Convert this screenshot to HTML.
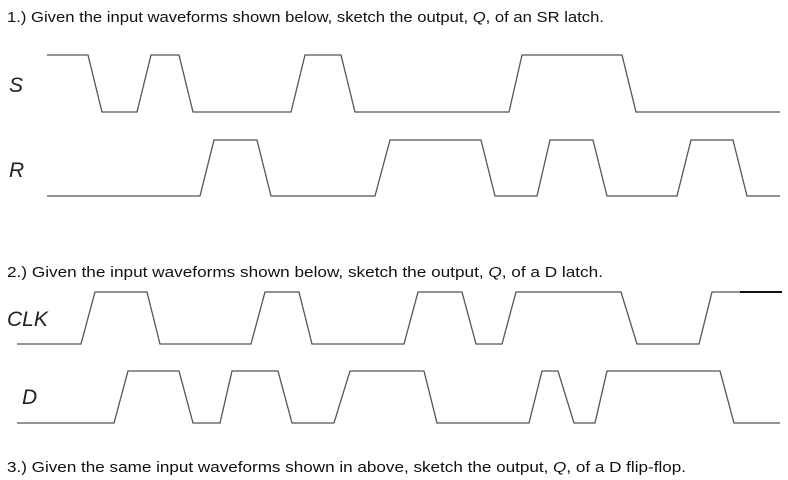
<!DOCTYPE html>
<html><head><meta charset="utf-8"><style>html,body{margin:0;padding:0;background:#fff;}svg{display:block}</style></head>
<body>
<svg width="788" height="480" xmlns="http://www.w3.org/2000/svg">
<g font-family="Liberation Sans, sans-serif" font-size="15" fill="#111">
<text x="7" y="22" textLength="597" lengthAdjust="spacingAndGlyphs">1.)  Given the input waveforms shown below, sketch the output, <tspan font-style="italic">Q</tspan>, of an SR latch.</text>
<text x="7" y="277" textLength="596" lengthAdjust="spacingAndGlyphs">2.)  Given the input waveforms shown below, sketch the output, <tspan font-style="italic">Q</tspan>, of a D latch.</text>
<text x="7" y="472" textLength="679" lengthAdjust="spacingAndGlyphs">3.)  Given the same input waveforms shown in above, sketch the output, <tspan font-style="italic">Q</tspan>, of a D flip-flop.</text>
</g>
<g font-family="Liberation Sans, sans-serif" font-size="21" font-style="italic" fill="#222">
<text x="9" y="92">S</text>
<text x="9" y="177">R</text>
<text x="7" y="326">CLK</text>
<text x="22" y="404">D</text>
</g>
<g fill="none" stroke="#555" stroke-width="1.3">
<polyline points="47,55 88,55 102,112 137,112 151,55 179,55 193,112 291,112 305,55 341,55 355,112 509,112 522,55 622,55 636,112 780,112"/>
<polyline points="47,196 200,196 214,140 257,140 271,196 375,196 390,140 481,140 495,196 537,196 550,140 593,140 607,196 677,196 691,140 733,140 747,196 780,196"/>
<polyline points="17,344 81,344 95,292 147,292 160,344 251,344 265,292 299,292 312,344 404,344 418,292 462,292 476,344 502,344 516,292 621,292 637,344 699,344 712,292 740,292"/>
<polyline points="17,423 114,423 128,371 179,371 193,423 220,423 232,371 278,371 292,423 334,423 350,371 424,371 437,423 529,423 542,371 558,371 574,423 595,423 607,371 720,371 734,423 780,423"/>
</g>
<line x1="740" y1="292" x2="782" y2="292" stroke="#111" stroke-width="2"/>
</svg>
</body></html>
